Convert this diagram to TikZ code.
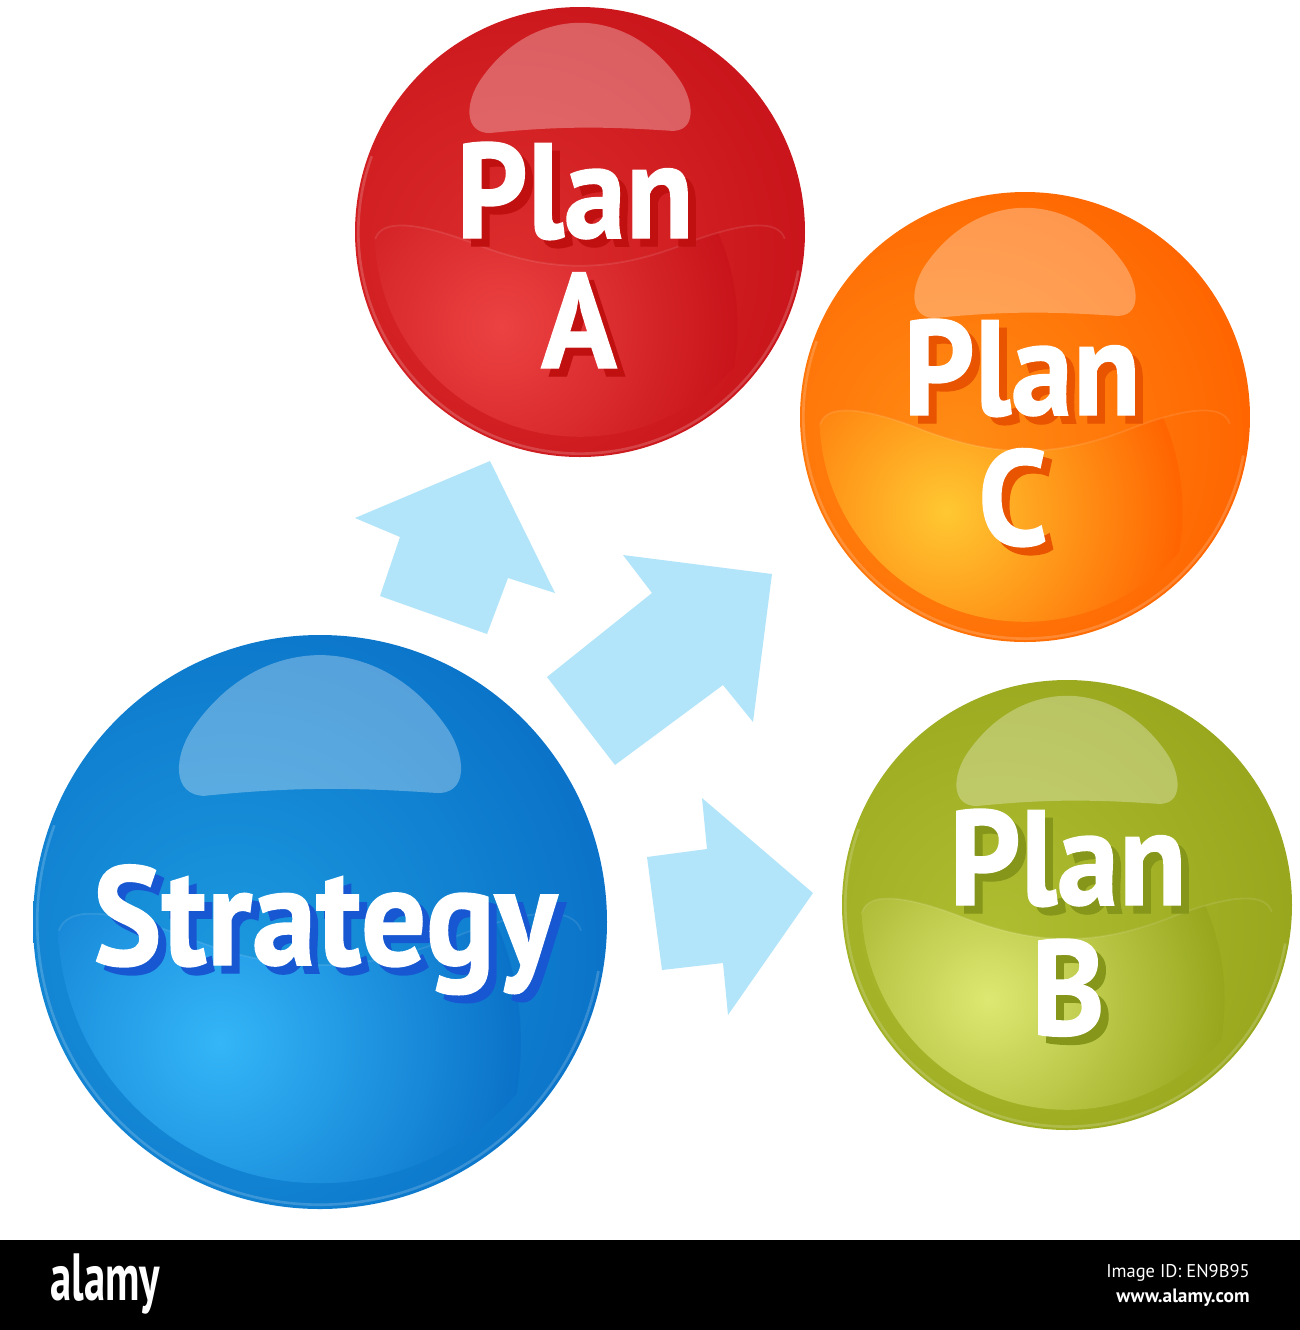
\documentclass[tikz,border=0pt]{standalone}
\usepackage{fontspec}
\newfontfamily\planfont[FakeStretch=0.92, FakeBold=1]{PT Sans}
\newfontfamily\logofont[FakeStretch=0.64]{PT Sans}
\newfontfamily\barfont{PT Sans}
\usetikzlibrary{positioning}

\definecolor{arrowblue}{HTML}{B3E5FA}
\definecolor{stratdark}{HTML}{0A72C8}
\definecolor{stratmid}{HTML}{1B98DE}
\definecolor{stratlight}{HTML}{34B6F8}
\definecolor{stratshadow}{HTML}{1758D2}
\definecolor{reddark}{HTML}{C8141A}
\definecolor{redmid}{HTML}{DC2C2C}
\definecolor{redlight}{HTML}{EC4242}
\definecolor{redshadow}{HTML}{C01010}
\definecolor{orangedark}{HTML}{FF6400}
\definecolor{orangemid}{HTML}{FF8C14}
\definecolor{orangelight}{HTML}{FFC832}
\definecolor{orangeshadow}{HTML}{E85400}
\definecolor{olivedark}{HTML}{97A61C}
\definecolor{olivemid}{HTML}{AEBD30}
\definecolor{olivelight}{HTML}{DDE872}
\definecolor{oliveshadow}{HTML}{86961A}

\tikzset{%
  sphere/.style={circle, inner sep=0pt, minimum size=#1},
  big label/.style={font=\planfont\bfseries\fontsize{77}{74}\selectfont,
    text=white, anchor=base, inner sep=0pt},
  block arrow/.style={fill=arrowblue, draw=none}
}

% glossy ball: node, radius (px), dark, mid, light
\newcommand{\glossy}[5]{%
  \begin{scope}[shift={(#1.center)}, scale=#2]
    \begin{scope}
      \clip (0,0) circle (1);
      \shade[inner color=#4, outer color=#3] (-0.3,0.1) circle (1.35);
      \clip (-0.91,0.03) .. controls (-0.88,-0.06) and (-0.72,-0.04) .. (-0.5,0.04)
        .. controls (-0.3,0.12) and (-0.15,0.15) .. (0,0.15)
        .. controls (0.15,0.15) and (0.3,0.12) .. (0.5,0.04)
        .. controls (0.72,-0.04) and (0.88,-0.06) .. (0.91,0.03)
        arc[start angle=2, end angle=178, radius=0.912] -- cycle;
      \shade[inner color=#5, outer color=#3] (-0.35,0.42) circle (1.05);
    \end{scope}
    \draw[white, opacity=0.1, line width=1pt]
      (-0.91,0.03) .. controls (-0.88,-0.06) and (-0.72,-0.04) .. (-0.5,0.04)
      .. controls (-0.3,0.12) and (-0.15,0.15) .. (0,0.15)
      .. controls (0.15,0.15) and (0.3,0.12) .. (0.5,0.04)
      .. controls (0.72,-0.04) and (0.88,-0.06) .. (0.91,0.03);
    \fill[white, opacity=0.3] (-0.40,-0.44) .. controls (-0.1,-0.47) and (0.1,-0.47) .. (0.40,-0.45)
      .. controls (0.52,-0.44) and (0.51,-0.58) .. (0.44,-0.68)
      .. controls (0.30,-0.88) and (0.12,-0.93) .. (0,-0.93)
      .. controls (-0.12,-0.93) and (-0.30,-0.88) .. (-0.44,-0.68)
      .. controls (-0.51,-0.58) and (-0.52,-0.44) .. cycle;
    \draw[white, opacity=0.18, line width=1.5pt] (0,0) ++(200:0.985) arc[start angle=200, end angle=10, radius=0.985];
  \end{scope}}

% white word with a dark copy behind it
\newcommand{\bigword}[4]{%
  \node[big label, text=#3] (#1s) at ([shift={(0.16cm,-0.16cm)}]#2) {#4};
  \node[big label] (#1) at (#2) {#4};}

\begin{document}
\begin{tikzpicture}[x=0.02cm, y=-0.02cm]
  \useasboundingbox (0,0) rectangle (1300,1330);
  \fill[white] (0,0) rectangle (1300,1240);
  \fill[black] (0,1240) rectangle (1300,1330);

  % arrows
  \fill[block arrow] (490,461) -- (555,593) -- (508,578) -- (487,634) -- (380,596)
    -- (400,537) -- (355,518) -- cycle;
  \fill[block arrow] (772,574) -- (753,722) -- (723,685) -- (615,765) -- (547,677)
    -- (652,593) -- (623,555) -- cycle;
  \fill[block arrow] (813,893) -- (728,1015) -- (723,963) -- (662,970) -- (647,857)
    -- (707,849) -- (702,798) -- cycle;

  % balls
  \node[sphere=11.48cm] (strategy) at (320,922) {};
  \node[sphere=9cm] (planA) at (580,232) {};
  \node[sphere=9cm] (planC) at (1025,417) {};
  \node[sphere=9cm] (planB) at (1067,905) {};

  \glossy{strategy}{287}{stratdark}{stratmid}{stratlight}
  \glossy{planA}{225}{reddark}{redmid}{redlight}
  \glossy{planC}{225}{orangedark}{orangemid}{orangelight}
  \glossy{planB}{225}{olivedark}{olivemid}{olivelight}

  % labels
  \begin{scope}[big label/.append style={font=\planfont\bfseries\fontsize{80}{74}\selectfont}]
    \bigword{stratT}{325,965}{stratshadow}{Strategy}
  \end{scope}
  \bigword{planAT}{575,238}{redshadow}{Plan}
  \bigword{planAL}{579,368}{redshadow}{A}
  \bigword{planCT}{1022,415}{orangeshadow}{Plan}
  \bigword{planCL}{1013,545}{orangeshadow}{C}
  \bigword{planBT}{1068,905}{oliveshadow}{Plan}
  \bigword{planBL}{1068,1035}{oliveshadow}{B}

  % footer
  \node[font=\logofont\bfseries\fontsize{38}{38}\selectfont, text=white, anchor=base west,
    inner sep=0pt] (logo) at (50,1300) {alamy};
  \node[font=\barfont\fontsize{10.5}{12}\selectfont, text=white, anchor=base east,
    inner sep=0pt] (imgid) at (1250,1277) {Image ID: EN9B95};
  \node[font=\barfont\bfseries\fontsize{11}{12}\selectfont, text=white, anchor=base east,
    inner sep=0pt] (site) at (1250,1302) {www.alamy.com};
\end{tikzpicture}
\end{document}
